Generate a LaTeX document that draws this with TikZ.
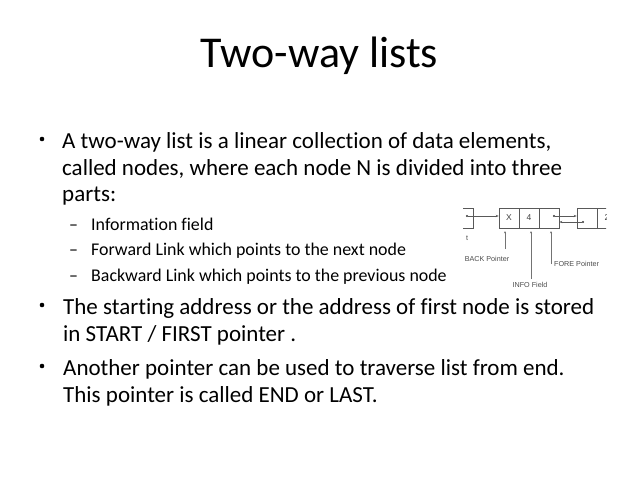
\documentclass[tikz,border=0pt]{standalone}
\usepackage{fontspec}
\setmainfont{Carlito}[Ligatures=NoCommon]
\newfontfamily\smallsans{Liberation Sans}
\usetikzlibrary{arrows.meta}
\tikzset{
  titletxt/.style={anchor=base, inner sep=0pt, font=\fontsize{44}{52}\selectfont},
  txt/.style={anchor=base west, inner sep=0pt, font=\fontsize{23}{27}\selectfont},
  subtxt/.style={anchor=base west, inner sep=0pt, font=\fontsize{17.9}{21}\selectfont},
  bul/.style={fill=black, circle, inner sep=0pt, minimum size=4.6pt},
  cell/.style={draw=black!65, line width=0.6pt, minimum width=20pt, minimum height=20pt, inner sep=0pt, font=\smallsans\fontsize{8.5}{9}\selectfont, text=black!75},
  lbl/.style={inner sep=0pt, font=\smallsans\fontsize{7.2}{8}\selectfont, text=black!70},
  dot/.style={fill=black!80, circle, inner sep=0pt, minimum size=2.4pt},
  link/.style={draw=black!65, line width=0.5pt, -{Stealth[length=3pt,width=2.4pt]}},
  ptr/.style={draw=black!55, line width=0.5pt, -{Stealth[length=2.4pt,width=2pt]}},
}
\begin{document}
\begin{tikzpicture}[x=1pt,y=-1pt]
\useasboundingbox[fill=white] (0,0) rectangle (638,479);
% title
\node[titletxt] (title) at (319.5,67) {Two-way lists};
% bullets
\node[bul] (b1) at (42,139) {};
\node[txt] (l1) at (62,148) {A two-way list is a linear collection of data elements,};
\node[txt] (l2) at (62,175) {called nodes, where each node N is divided into three};
\node[txt] (l3) at (62,201) {parts:};
\node[subtxt] (d1) at (69,230) {–};
\node[subtxt] (s1) at (91,230) {Information field};
\node[subtxt] (d2) at (69,255) {–};
\node[subtxt] (s2) at (91,255) {Forward Link which points to the next node};
\node[subtxt] (d3) at (69,281) {–};
\node[subtxt] (s3) at (91,281) {Backward Link which points to the previous node};
\node[bul] (b2) at (42,305) {};
\node[txt] (l4) at (63,314) {The starting address or the address of first node is stored};
\node[txt] (l5) at (63,341) {in START / FIRST pointer .};
\node[bul] (b3) at (42,366) {};
\node[txt] (l6) at (63,375) {Another pointer can be used to traverse list from end.};
\node[txt] (l7) at (63,402) {This pointer is called END or LAST.};
% small list diagram
\begin{scope}
\clip (463,200) rectangle (606,240);
\node[cell] (c0) at (463,218) {};
\node[cell] (c4) at (587,218) {};
\node[cell] (c5) at (607,218) {2};
\end{scope}
\node[cell] (c1) at (509,218) {X};
\node[cell] (c2) at (529,218) {4};
\node[cell] (c3) at (549,218) {};
\node[dot] (p0) at (467,216) {};
\node[dot] (p3) at (554,216) {};
\node[dot] (p4) at (583,222) {};
\draw[link] (p0) -- (p0 -| c1.west);
\draw[link] (p3) -- (p3 -| c4.west);
\draw[link] (p4) -- (p4 -| c3.east);
\node[lbl, anchor=base] (tlab) at (467,240) {t};
\coordinate (backend) at (505,249);
\coordinate (infoend) at (531,279);
\coordinate (foreend) at (551,264);
\draw[ptr] (backend) -- (505,231);
\draw[ptr] (infoend) -- (531,231);
\draw[ptr] (foreend) -- (551,231);
\node[lbl, anchor=base] (back) at (487,261) {BACK Pointer};
\node[lbl, anchor=base] (info) at (530,287) {INFO Field};
\node[lbl, anchor=base west] (fore) at (554,266) {FORE Pointer};
\end{tikzpicture}
\end{document}
